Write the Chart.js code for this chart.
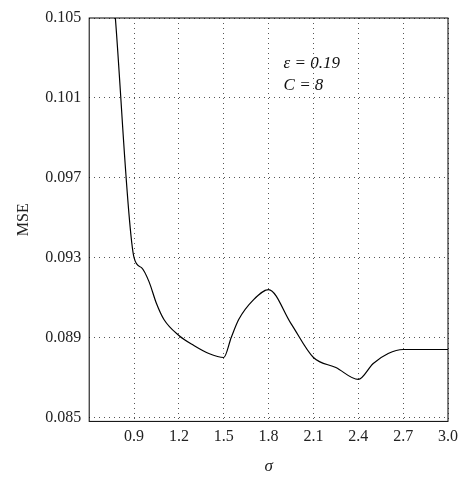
<!DOCTYPE html>
<html><head><script src="https://cdn.jsdelivr.net/npm/chart.js@4"></script>
<style>body{margin:0;background:#fff}#w{width:474px;height:485px}</style></head>
<body><div id="w"><canvas id="c"></canvas></div>
<script>
const sigma=[0.775,0.9,0.95,1.0,1.05,1.1,1.2,1.3,1.4,1.5,1.55,1.6,1.7,1.8,1.95,2.1,2.25,2.4,2.5,2.6,2.7,3.0];
const mse=[0.105,0.093,0.0925,0.0918,0.0907,0.0899,0.0891,0.0886,0.0882,0.0880,0.0890,0.0899,0.0909,0.0914,0.0897,0.0880,0.0875,0.0869,0.0877,0.0882,0.0884,0.0884];
const xTicks=[0.9,1.2,1.5,1.8,2.1,2.4,2.7,3.0];
const yTicks=[0.085,0.089,0.093,0.097,0.101,0.105];
const labels=['ε = 0.19','C = 8'];
const font="'Liberation Serif', serif";
new Chart(document.getElementById('c'),{
type:'line',
data:{datasets:[{data:sigma.map((x,i)=>({x,y:mse[i]})),borderColor:'#000',borderWidth:1.2,pointRadius:0,cubicInterpolationMode:'monotone'}]},
options:{responsive:true,maintainAspectRatio:false,animation:false,
layout:{padding:{top:18,right:26,left:10,bottom:4}},
plugins:{legend:{display:false},tooltip:{enabled:false}},
scales:{
x:{type:'linear',min:0.6,max:3.0,afterBuildTicks:a=>{a.ticks=xTicks.map(v=>({value:v}))},
 grid:{color:'#555',lineWidth:1,drawTicks:false},border:{display:false,dash:[1,4]},
 ticks:{color:'#222',font:{family:font,size:16},padding:6,callback:v=>v.toFixed(1)},
 title:{display:true,text:'σ',color:'#222',font:{family:font,size:17,style:'italic'}}},
y:{min:0.0848,max:0.105,afterBuildTicks:a=>{a.ticks=yTicks.map(v=>({value:v}))},
 grid:{color:'#555',lineWidth:1,drawTicks:false},border:{display:false,dash:[1,4]},
 ticks:{color:'#222',font:{family:font,size:16},padding:8,callback:v=>v.toFixed(3)},
 title:{display:true,text:'MSE',color:'#222',font:{family:font,size:16}}}}},
plugins:[{id:'box',afterDraw(c){const a=c.chartArea,g=c.ctx;g.save();g.strokeStyle='#000';g.lineWidth=1;g.setLineDash([]);g.strokeRect(a.left,a.top,a.right-a.left,a.bottom-a.top);
 g.font="italic 17px "+font;g.fillStyle='#111';g.textAlign='left';
 const xs=c.scales.x.getPixelForValue(1.9),ys=c.scales.y;
 g.fillText(labels[0],xs,ys.getPixelForValue(0.1025));g.fillText(labels[1],xs,ys.getPixelForValue(0.1014));g.restore();}}]
});
</script></body></html>
